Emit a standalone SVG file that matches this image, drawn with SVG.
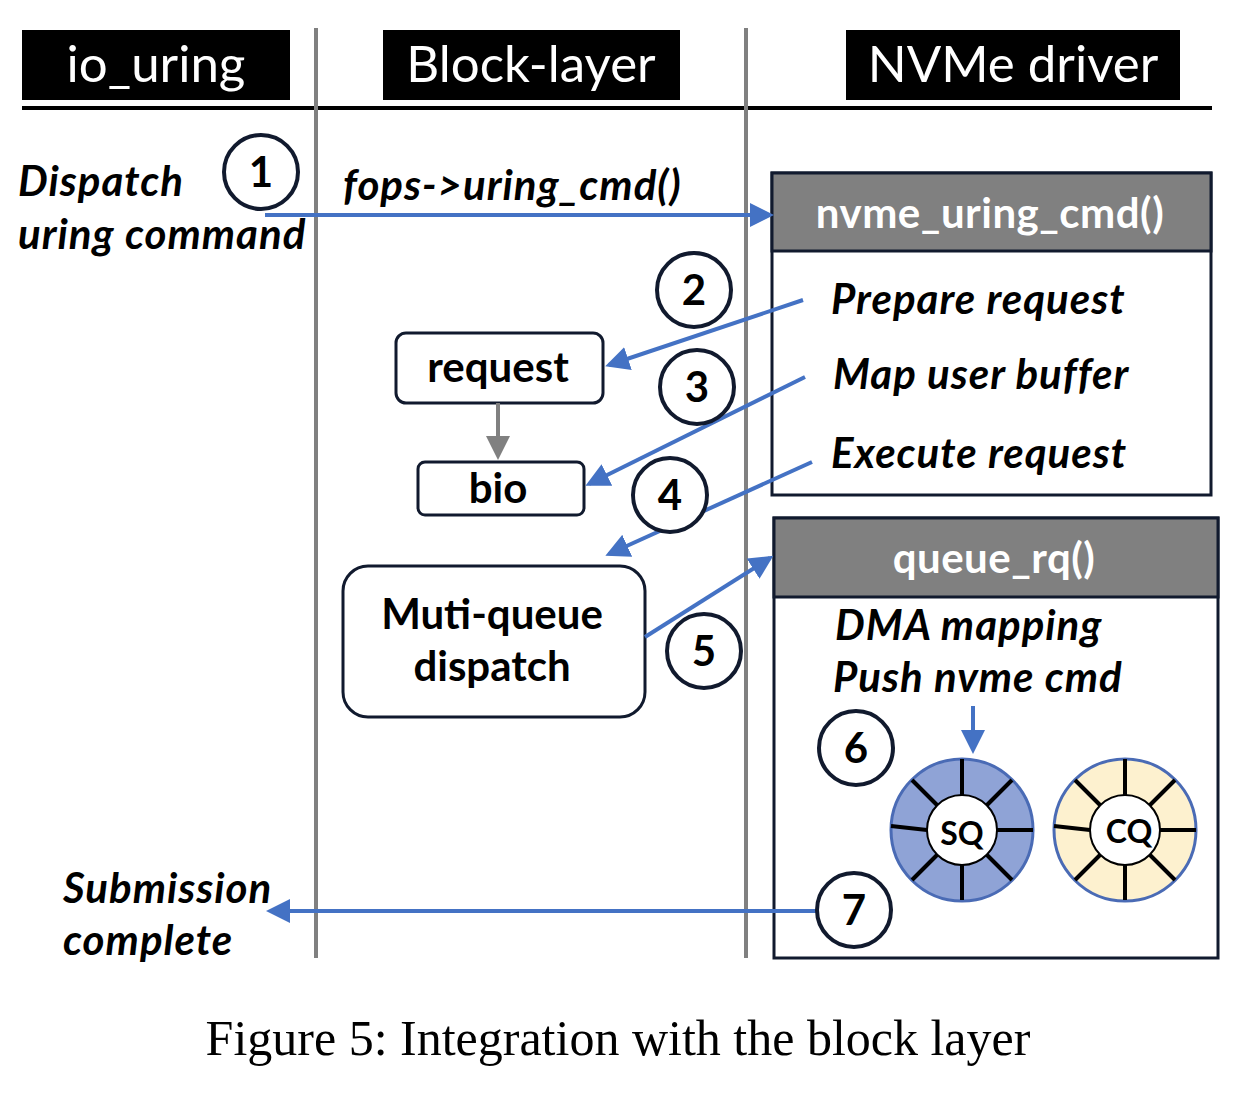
<svg xmlns="http://www.w3.org/2000/svg" width="1240" height="1098" viewBox="0 0 1240 1098">
<style>
.hd{fill:#000}
.ht{font-family:Lato,"Liberation Sans",sans-serif;font-size:51px;fill:#fff;text-anchor:middle}
.lb{font-family:Lato,"Liberation Sans",sans-serif;font-size:42px;font-weight:bold;font-style:italic;fill:#000;letter-spacing:1px}
.bt{font-family:Lato,"Liberation Sans",sans-serif;font-size:42px;font-weight:bold;fill:#000;text-anchor:middle}
.wt{font-family:Lato,"Liberation Sans",sans-serif;font-size:42px;font-weight:bold;fill:#fff;text-anchor:middle;letter-spacing:0.5px}
.num{font-family:Lato,"Liberation Sans",sans-serif;font-size:42px;font-weight:bold;fill:#000;text-anchor:middle}
.cir{fill:#fff;stroke:#111a2e;stroke-width:4}
.box{fill:#fff;stroke:#111a2e;stroke-width:3}
.ar{stroke:#4472c4;stroke-width:4;fill:none;marker-end:url(#ab)}
.sp{stroke:#000;stroke-width:4}
</style>
<defs>
<marker id="ab" markerWidth="6" markerHeight="6" refX="5" refY="3" orient="auto" markerUnits="strokeWidth"><path d="M0,0 L6,3 L0,6 z" fill="#4472c4"/></marker>
<marker id="ag" markerWidth="6" markerHeight="6" refX="5" refY="3" orient="auto" markerUnits="strokeWidth"><path d="M0,0 L6,3 L0,6 z" fill="#808080"/></marker>
</defs>
<rect width="1240" height="1098" fill="#fff"/>
<g id="headers">
<rect class="hd" x="22" y="30" width="268" height="70"/><text class="ht" x="156" y="82">io_uring</text>
<rect class="hd" x="383" y="30" width="297" height="70"/><text class="ht" x="531" y="82">Block-layer</text>
<rect class="hd" x="846" y="30" width="334" height="70"/><text class="ht" x="1013" y="82">NVMe driver</text>
<line x1="22" y1="108" x2="1212" y2="108" stroke="#000" stroke-width="4"/>
<line x1="316" y1="28" x2="316" y2="958" stroke="#808080" stroke-width="4"/>
<line x1="746" y1="28" x2="746" y2="958" stroke="#808080" stroke-width="4"/>
</g>
<g id="nvme_uring_cmd">
<rect class="box" x="772" y="173" width="439" height="322"/>
<rect x="772" y="173" width="439" height="78" fill="#808080" stroke="#111a2e" stroke-width="3"/>
<text class="wt" x="990" y="228">nvme_uring_cmd()</text>
<text class="lb" x="831" y="314">Prepare request</text>
<text class="lb" x="833" y="389">Map user buffer</text>
<text class="lb" x="831" y="468">Execute request</text>
</g>
<g id="queue_rq">
<rect class="box" x="774" y="518" width="444" height="440"/>
<rect x="774" y="518" width="444" height="79" fill="#808080" stroke="#111a2e" stroke-width="3"/>
<text class="wt" x="994" y="573">queue_rq()</text>
<text class="lb" x="835" y="640">DMA mapping</text>
<text class="lb" x="833" y="692">Push nvme cmd</text>
</g>
<g id="SQ">
<circle cx="962" cy="830" r="71" fill="#8fa3d6" stroke="#4a6bb5" stroke-width="3"/>
<circle cx="962" cy="830" r="35" fill="#fff" stroke="#000" stroke-width="2"/>
<g class="sp">
<line x1="962" y1="795" x2="962" y2="759"/><line x1="962" y1="865" x2="962" y2="900"/>
<line x1="927" y1="830" x2="891" y2="826"/><line x1="997" y1="830" x2="1033" y2="830"/>
<line x1="937" y1="805" x2="912" y2="780"/><line x1="987" y1="805" x2="1012" y2="780"/>
<line x1="937" y1="855" x2="912" y2="880"/><line x1="987" y1="855" x2="1012" y2="880"/>
</g>
<text x="962" y="845" font-family="Lato,'Liberation Sans',sans-serif" font-size="32" font-weight="bold" text-anchor="middle">SQ</text>
</g>
<g id="CQ">
<circle cx="1125" cy="830" r="71" fill="#fdf1cf" stroke="#4a6bb5" stroke-width="3"/>
<circle cx="1125" cy="830" r="35" fill="#fff" stroke="#000" stroke-width="2"/>
<g class="sp">
<line x1="1125" y1="795" x2="1125" y2="759"/><line x1="1125" y1="865" x2="1125" y2="900"/>
<line x1="1090" y1="830" x2="1054" y2="826"/><line x1="1160" y1="830" x2="1196" y2="830"/>
<line x1="1100" y1="805" x2="1075" y2="780"/><line x1="1150" y1="805" x2="1175" y2="780"/>
<line x1="1100" y1="855" x2="1075" y2="880"/><line x1="1150" y1="855" x2="1175" y2="880"/>
</g>
<text x="1129" y="843" font-family="Lato,'Liberation Sans',sans-serif" font-size="32" font-weight="bold" text-anchor="middle">CQ</text>
</g>
<g id="request"><rect class="box" x="396" y="333" width="207" height="70" rx="10"/><text class="bt" x="498" y="382">request</text></g>
<g id="bio"><rect class="box" x="418" y="462" width="166" height="53" rx="7"/><text class="bt" x="498" y="503">bio</text></g>
<g id="mq"><rect class="box" x="343" y="566" width="302" height="151" rx="25"/><text class="bt" x="492" y="629">Muti-queue</text><text class="bt" x="492" y="681">dispatch</text></g>
<g id="labels">
<text class="lb" x="18" y="196">Dispatch</text>
<text class="lb" x="18" y="249">uring command</text>
<text class="lb" x="343" y="200">fops-&gt;uring_cmd()</text>
<text class="lb" x="63" y="903">Submission</text>
<text class="lb" x="63" y="955">complete</text>
</g>
<g id="connectors">
<line class="ar" x1="265" y1="215" x2="770" y2="215"/>
<line class="ar" x1="803" y1="300" x2="609" y2="365"/>
<line class="ar" x1="805" y1="377" x2="589" y2="484"/>
<line class="ar" x1="812" y1="462" x2="609" y2="554"/>
<line class="ar" x1="645" y1="637" x2="770" y2="558"/>
<line class="ar" x1="973" y1="706" x2="973" y2="750"/>
<line class="ar" x1="818" y1="911" x2="270" y2="911"/>
<line x1="498" y1="403" x2="498" y2="456" stroke="#808080" stroke-width="4" marker-end="url(#ag)"/>
</g>
<g id="steps">
<circle class="cir" cx="261" cy="172" r="37"/><text class="num" x="261" y="187">1</text>
<circle class="cir" cx="694" cy="290" r="37"/><text class="num" x="694" y="305">2</text>
<circle class="cir" cx="697" cy="387" r="37"/><text class="num" x="697" y="402">3</text>
<circle class="cir" cx="670" cy="495" r="37"/><text class="num" x="670" y="510">4</text>
<circle class="cir" cx="704" cy="651" r="37"/><text class="num" x="704" y="666">5</text>
<circle class="cir" cx="856" cy="748" r="37"/><text class="num" x="856" y="763">6</text>
<circle class="cir" cx="854" cy="910" r="37"/><text class="num" x="854" y="925">7</text>
</g>
<text x="618" y="1055" font-family="'Liberation Serif',serif" font-size="50" text-anchor="middle">Figure 5: Integration with the block layer</text>
</svg>
